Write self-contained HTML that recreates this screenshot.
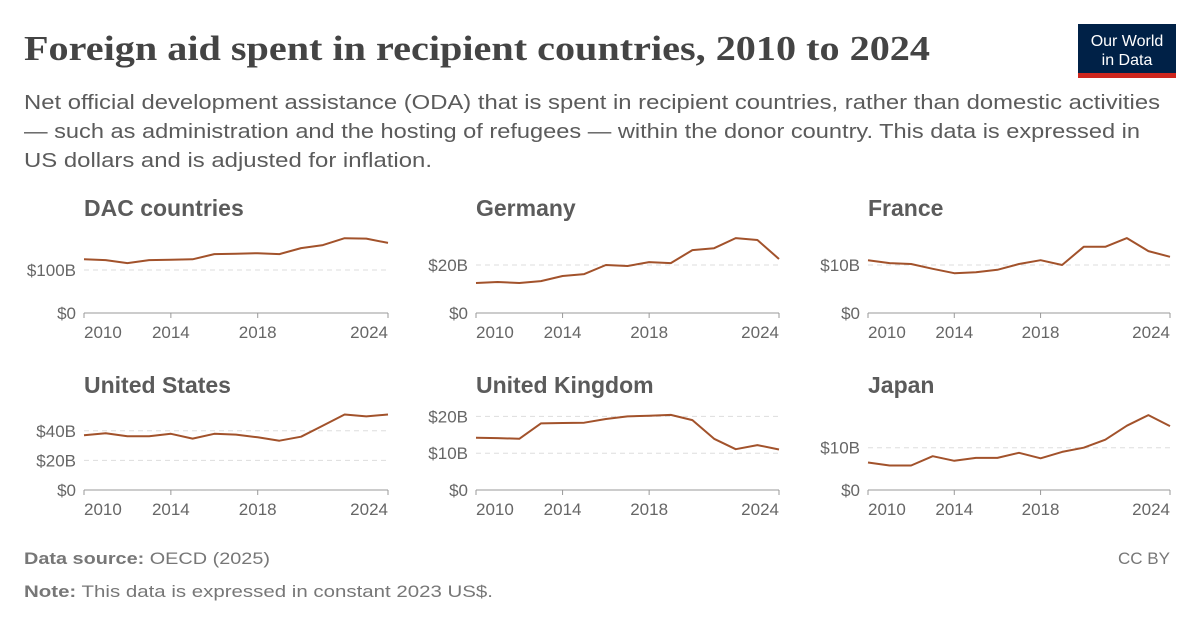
<!DOCTYPE html>
<html><head><meta charset="utf-8"><style>
body{margin:0;width:1200px;height:627px;background:#fff;overflow:hidden;font-family:"Liberation Sans",sans-serif;}
svg{position:absolute;left:0;top:0}
</style></head><body>
<svg width="1200" height="627" xmlns="http://www.w3.org/2000/svg" id="chart">
<text x="24" y="60" font-family="Liberation Serif, serif" font-size="35" font-weight="bold" fill="#444" textLength="906" lengthAdjust="spacingAndGlyphs">Foreign aid spent in recipient countries, 2010 to 2024</text>
<g>
<rect x="1078" y="24" width="98" height="50" fill="#002147"/>
<rect x="1078" y="73" width="98" height="5" fill="#ce261e"/>
<text x="1127" y="46" font-size="16" fill="#fff" text-anchor="middle">Our World</text>
<text x="1127" y="65" font-size="16" fill="#fff" text-anchor="middle">in Data</text>
</g>
<g font-size="20" fill="#5b5b5b">
<text x="24" y="109" textLength="1136" lengthAdjust="spacingAndGlyphs">Net official development assistance (ODA) that is spent in recipient countries, rather than domestic activities</text>
<text x="24" y="138" textLength="1116" lengthAdjust="spacingAndGlyphs">— such as administration and the hosting of refugees — within the donor country. This data is expressed in</text>
<text x="24" y="167" textLength="408" lengthAdjust="spacingAndGlyphs">US dollars and is adjusted for inflation.</text>
</g>
<g id="panels"></g>
<text x="24" y="564" font-size="17" fill="#777" textLength="246" lengthAdjust="spacingAndGlyphs"><tspan font-weight="bold">Data source:</tspan> OECD (2025)</text>
<text x="24" y="597" font-size="17" fill="#777" textLength="469" lengthAdjust="spacingAndGlyphs"><tspan font-weight="bold">Note:</tspan> This data is expressed in constant 2023 US$.</text>
<text x="1170" y="564" font-size="17" fill="#777" text-anchor="end">CC BY</text>
</svg>
<script>
const years=[2010,2011,2012,2013,2014,2015,2016,2017,2018,2019,2020,2021,2022,2023,2024];
const xTicks=[2010,2014,2018,2024];
const dacValues=[125,123,116,123,124,125,137,138,139,137,151,158,174,173,163];
const germanyValues=[12.5,12.9,12.5,13.3,15.4,16.2,20,19.6,21.2,20.8,26.2,27,31.2,30.4,22.5];
const franceValues=[11,10.4,10.2,9.2,8.3,8.5,9,10.2,11,10,13.8,13.8,15.6,12.9,11.7];
const usValues=[37,38.3,36.3,36.3,38,34.7,38,37.4,35.6,33.3,36,43.5,51,49.7,51];
const ukValues=[14.2,14.1,13.9,18.1,18.2,18.3,19.3,20,20.2,20.4,19,13.9,11.1,12.2,11];
const japanValues=[6.5,5.8,5.8,8,6.9,7.6,7.6,8.8,7.5,9,10,11.9,15.2,17.7,15.1];
const dacTicks=[0,100], germanyTicks=[0,20], franceTicks=[0,10], usTicks=[0,20,40], ukTicks=[0,10,20], japanTicks=[0,10];
const panels=[
 {name:"DAC countries",vals:dacValues,ticks:dacTicks,x0:84,x1:388,y0:313,ppu:0.43,ty:208},
 {name:"Germany",vals:germanyValues,ticks:germanyTicks,x0:476,x1:779,y0:313,ppu:2.4,ty:208},
 {name:"France",vals:franceValues,ticks:franceTicks,x0:868,x1:1170,y0:313,ppu:4.8,ty:208},
 {name:"United States",vals:usValues,ticks:usTicks,x0:84,x1:388,y0:490,ppu:1.48,ty:385},
 {name:"United Kingdom",vals:ukValues,ticks:ukTicks,x0:476,x1:779,y0:490,ppu:3.68,ty:385},
 {name:"Japan",vals:japanValues,ticks:japanTicks,x0:868,x1:1170,y0:490,ppu:4.23,ty:385}
];
const NS="http://www.w3.org/2000/svg";
const root=document.getElementById('panels');
function mk(t,a,p){const e=document.createElementNS(NS,t);for(const k in a)e.setAttribute(k,a[k]);p.appendChild(e);return e;}
panels.forEach(p=>{
 const g=mk('g',{},root);
 
 
 const xs=y=>p.x0+(y-2010)/(2024-2010)*(p.x1-p.x0);
 const ys=v=>p.y0-v*p.ppu;
 const t=mk('text',{x:p.x0,y:p.ty+8,'font-size':23,'font-weight':'bold',fill:'#5b5b5b'},g);t.textContent=p.name;
 
 
 p.ticks.forEach(v=>{
  if(v>0){const l=mk('line',{x1:p.x0,x2:p.x1,y1:ys(v),y2:ys(v),stroke:'#ddd','stroke-dasharray':'5,4'},g);
   
   }
  const lb=mk('text',{x:p.x0-8,y:ys(v)+6,'font-size':17,fill:'#666','text-anchor':'end'},g);
  lb.textContent='$'+v+(v>0?'B':'');
  
  
 });
 const ax=mk('line',{x1:p.x0,x2:p.x1,y1:p.y0,y2:p.y0,stroke:'#999'},g);
 
 
 xTicks.forEach((y,i)=>{
  mk('line',{x1:xs(y),x2:xs(y),y1:p.y0,y2:p.y0+5,stroke:'#999'},g);
  const anchor=i===0?'start':(i===xTicks.length-1?'end':'middle');
  const lb=mk('text',{x:xs(y),y:p.y0+25,'font-size':17,fill:'#666','text-anchor':anchor},g);
  lb.textContent=y;
  
  
 });
 const d=p.vals.map((v,i)=>(i?'L':'M')+xs(years[i]).toFixed(1)+','+ys(v).toFixed(1)).join('');
 const path=mk('path',{d:d,fill:'none',stroke:'#a2522b','stroke-width':2,'stroke-linejoin':'round'},g);
 
 
});
</script>
</body></html>
